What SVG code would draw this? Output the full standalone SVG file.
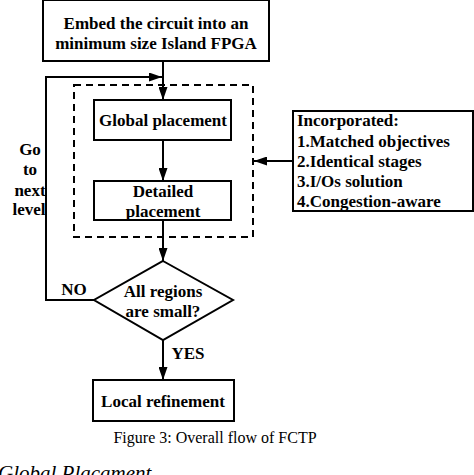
<svg xmlns="http://www.w3.org/2000/svg" width="474" height="475" viewBox="0 0 474 475">
<style>
.box{fill:#fff;stroke:#000;stroke-width:2}
.dash{fill:none;stroke:#000;stroke-width:2;stroke-dasharray:7,5}
.ln{fill:none;stroke:#000;stroke-width:2}
.t{font-family:'Liberation Serif','Times New Roman',serif;font-weight:bold;font-size:17px;fill:#000}
.c{text-anchor:middle}
</style>
<defs>
<marker id="ah2" viewBox="0 0 13 10" refX="13" refY="5" markerWidth="13" markerHeight="9" markerUnits="userSpaceOnUse" orient="auto" preserveAspectRatio="none">
<path d="M0,0 L13,5 L0,10 z" fill="#000"/>
</marker>
</defs>
<rect width="474" height="475" fill="#fff"/>
<g id="connectors">
<path class="ln" d="M163,61 V100" marker-end="url(#ah2)"/>
<path class="ln" d="M94,300 H46 V77 H162" marker-end="url(#ah2)"/>
<path class="ln" d="M163,140 V181" marker-end="url(#ah2)"/>
<path class="ln" d="M163,220 V261" marker-end="url(#ah2)"/>
<path class="ln" d="M163,340 V380" marker-end="url(#ah2)"/>
<path class="ln" d="M293,161 H254" marker-end="url(#ah2)"/>
</g>
<g id="group">
<rect class="dash" x="74" y="85" width="179" height="152"/>
</g>
<g font-family="Liberation Serif, serif" font-weight="bold" font-size="17">
<g id="embed">
<rect class="box" x="43" y="0" width="226" height="61"/>
<text class="t c" x="156" y="29">Embed the circuit into an</text>
<text class="t c" x="156" y="49">minimum size Island FPGA</text>
</g>
<g id="global">
<rect class="box" x="94" y="100" width="137" height="40"/>
<text class="t c" x="163" y="126">Global placement</text>
</g>
<g id="detailed">
<rect class="box" x="94" y="181" width="137" height="39"/>
<text class="t c" x="163" y="197">Detailed</text>
<text class="t c" x="163" y="217">placement</text>
</g>
<g id="decision">
<path class="box" d="M163,261 L233,300 L163,340 L94,300 Z"/>
<text class="t c" x="163" y="297">All regions</text>
<text class="t c" x="163" y="317">are small?</text>
</g>
<g id="local">
<rect class="box" x="93" y="380" width="141" height="41"/>
<text class="t c" x="163" y="407">Local refinement</text>
</g>
<g id="incorporated">
<rect class="box" x="293" y="111" width="180" height="100"/>
<text class="t" x="297" y="126">Incorporated:</text>
<text class="t" x="297" y="147">1.Matched objectives</text>
<text class="t" x="297" y="167">2.Identical stages</text>
<text class="t" x="297" y="187">3.I/Os solution</text>
<text class="t" x="297" y="207">4.Congestion-aware</text>
</g>
<g id="labels">
<text class="t c" x="30" y="155">Go</text>
<text class="t c" x="30" y="175">to</text>
<text class="t c" x="30" y="196">next</text>
<text class="t c" x="29" y="215">level</text>
<text class="t c" x="74" y="295">NO</text>
<text class="t c" x="188" y="359">YES</text>
</g>
</g>
<text x="215" y="443" text-anchor="middle" font-family="Liberation Serif, serif" font-size="16">Figure 3: Overall flow of FCTP</text>
<text x="-2" y="480" font-family="Liberation Serif, serif" font-style="italic" font-size="21">Global Placament</text>
</svg>
